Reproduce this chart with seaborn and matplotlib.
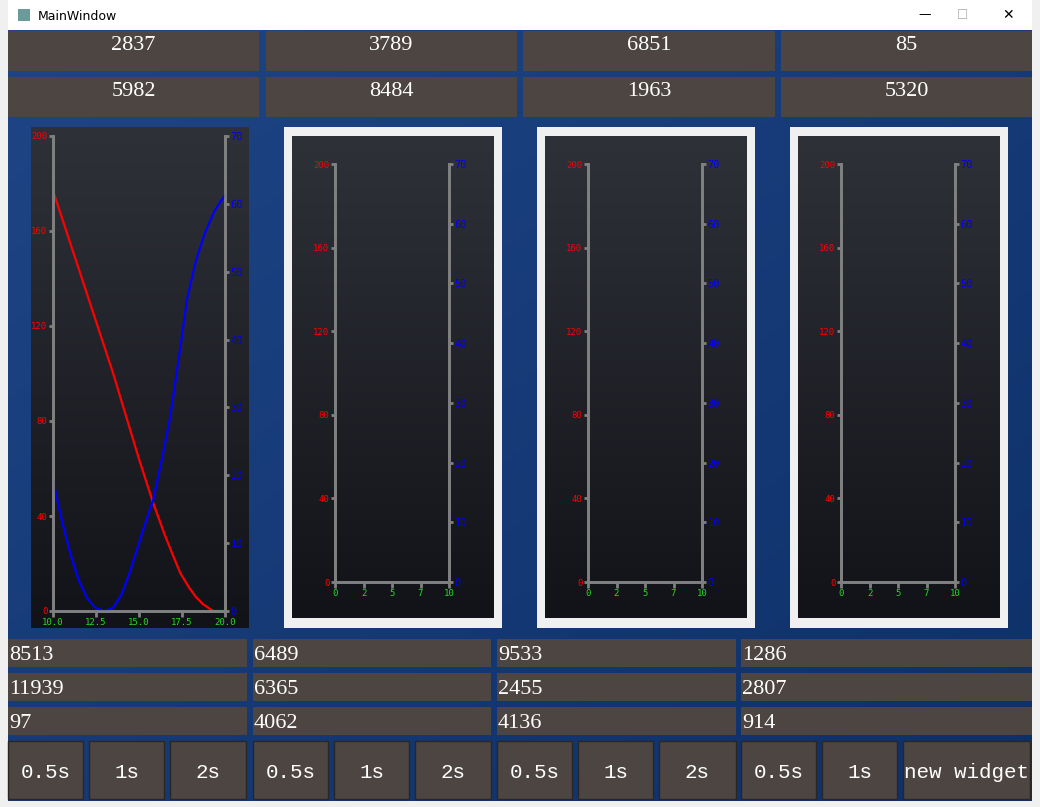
import numpy as np
import matplotlib.pyplot as plt
import seaborn as sns
from matplotlib.patches import Rectangle

W, H = 1040, 807

top_row1 = ['2837', '3789', '6851', '85']
top_row2 = ['5982', '8484', '1963', '5320']
bottom_rows = [['8513', '6489', '9533', '1286'],
               ['11939', '6365', '2455', '2807'],
               ['97', '4062', '4136', '914']]
buttons = ['0.5s', '1s', '2s', '0.5s', '1s', '2s', '0.5s', '1s', '2s', '0.5s', '1s', 'new widget']

# curves
red_x = [10, 10.5, 11, 11.5, 12, 12.5, 13, 13.5, 14, 14.5, 15, 15.4, 15.8,
         16.2, 16.5, 17, 17.4, 17.9, 18.3, 18.7, 19, 19.3, 20.0]
red_y = [177, 166, 155, 144, 133, 122, 111, 100, 88, 76, 64, 55, 46,
         38, 32, 23, 16, 10, 6, 3, 1.5, 0, 0]
blue_x = [10, 10.5, 11, 11.5, 12, 12.5, 13, 13.5, 14, 14.5, 15, 15.5, 15.8,
          16.3, 16.8, 17.3, 17.8, 18.3, 18.8, 19.4, 20.0]
blue_y = [19.3, 13.5, 8.5, 4.5, 1.8, 0.4, 0, 0.5, 2.5, 6, 10, 14, 16.1,
          22, 28.4, 37, 46, 51.5, 55.5, 59, 61.3]

left_ticks = [0, 40, 80, 120, 160, 200]
right_ticks = [0, 10, 20, 30, 40, 50, 60, 70]

BOX = '#4d4542'
GRAY = '#808080'

fig = plt.figure(figsize=(W / 100, H / 100), dpi=100)
fig.patch.set_facecolor('#f0f0f0')


def rect(x, y, w, h):
    return [x / W, 1 - (y + h) / H, w / W, h / H]


def fig_box(x, y, w, h, color, **kw):
    fig.add_artist(Rectangle((x / W, 1 - (y + h) / H), w / W, h / H,
                             transform=fig.transFigure, facecolor=color,
                             edgecolor=kw.pop('ec', 'none'), lw=kw.pop('lw', 0), **kw))


# window background gradient (blue)
bg = fig.add_axes(rect(8, 30, 1024, 771))
grad = np.linspace(0, 1, 256)
gx, gy = np.meshgrid(grad, grad)
bg.imshow(0.5 * gx + 0.5 * gy, cmap=sns.blend_palette(['#1f4586', '#0d3068'], as_cmap=True),
          aspect='auto', extent=[0, 1, 0, 1])
bg.axis('off')

# title bar
fig_box(8, 0, 1024, 30, 'white')
fig.text(38 / W, 1 - 16 / H, 'MainWindow', fontsize=9, va='center', family='DejaVu Sans')
fig.text(925 / W, 1 - 15 / H, '—', fontsize=9, va='center', ha='center')
fig.text(963 / W, 1 - 15 / H, '☐', fontsize=9, va='center', ha='center', color='#aaaaaa')
fig.text(1008 / W, 1 - 15 / H, '✕', fontsize=10, va='center', ha='center')
fig_box(18, 9, 12, 12, '#6a9a9a')

serif = 'Liberation Serif'

# top boxes
xs_top = [(8, 251), (266, 251), (523, 252), (781, 251)]
for row, y in [(top_row1, 31), (top_row2, 77)]:
    for (x, w), t in zip(xs_top, row):
        fig_box(x, y, w, 40, BOX)
        fig.text((x + w / 2) / W, 1 - (y + 14) / H, t, color='white', fontsize=16,
                 ha='center', va='center', family=serif)

# bottom boxes
xs_bot = [(8, 239), (253, 238), (497, 239), (741, 291)]
for row, y in zip(bottom_rows, [639, 673, 707]):
    for (x, w), t in zip(xs_bot, row):
        fig_box(x, y, w, 28, BOX)
        fig.text((x + 1) / W, 1 - (y + 16) / H, t, color='white', fontsize=16,
                 ha='left', va='center', family=serif)

# buttons
bx = [(8, 75), (89, 75), (170, 76), (253, 75), (334, 75), (415, 76),
      (497, 75), (578, 75), (659, 77), (741, 75), (822, 75), (903, 127)]
for (x, w), t in zip(bx, buttons):
    fig_box(x, 741, w, 58, BOX, ec='#2a2624', lw=1)
    fig.text((x + w / 2) / W, 1 - 772 / H, t, color='white', fontsize=15,
             ha='center', va='center', family=['Liberation Mono', 'DejaVu Sans Mono'])

dark = sns.blend_palette(['#2f3139', '#121318'], as_cmap=True)


def panel(x, y, w, h):
    a = fig.add_axes(rect(x, y, w, h))
    a.imshow(np.linspace(0, 1, 256)[:, None], cmap=dark, aspect='auto', extent=[0, 1, 0, 1])
    a.axis('off')


def frame(x, y, w, h):
    a = fig.add_axes(rect(x, y, w, h))
    a.set_facecolor('#f0f0f0')
    a.set_xticks([])
    a.set_yticks([])
    for s in a.spines.values():
        s.set_visible(False)


def chart(x0, x1, y0, y1, xlim, xticks, xlabels, draw):
    ax = fig.add_axes(rect(x0, y0, x1 - x0, y1 - y0))
    ax.set_facecolor('none')
    ax2 = ax.twinx()
    for a in (ax, ax2):
        a.spines['top'].set_visible(False)
        for s in a.spines.values():
            s.set_color(GRAY)
            s.set_linewidth(2)
        a.tick_params(colors=GRAY, width=2, length=4, labelsize=6.5)
    ax.set_xlim(*xlim)
    ax.set_ylim(0, 200)
    ax2.set_ylim(0, 70)
    ax.set_yticks(left_ticks)
    ax2.set_yticks(right_ticks)
    ax.set_xticks(xticks, xlabels)
    ax.tick_params(axis='x', labelcolor='#22dd22', pad=1)
    ax.tick_params(axis='y', labelcolor='red', pad=1, length=3)
    ax2.tick_params(axis='y', labelcolor='blue', pad=1, length=3, labelsize=7.5)
    for lab in ax.get_yticklabels() + ax2.get_yticklabels() + ax.get_xticklabels():
        lab.set_family('DejaVu Sans Mono')
    if draw:
        sns.lineplot(x=red_x, y=red_y, ax=ax, color='red', lw=1.6)
        sns.lineplot(x=blue_x, y=blue_y, ax=ax2, color='blue', lw=1.6)
    ax.set_zorder(3)
    ax2.set_zorder(4)


# first chart: no frame
panel(31, 127, 218, 501)
chart(53, 225, 136, 611, (10, 20), [10, 12.5, 15, 17.5, 20],
      ['10.0', '12.5', '15.0', '17.5', '20.0'], True)

for fx, lx in [(284, 335), (537, 588), (790, 841)]:
    frame(fx, 127, 218, 501)
    panel(fx + 8, 136, 202, 482)
    chart(lx, lx + 114, 164, 582, (0, 10), [0, 2.5, 5, 7.5, 10],
          ['0', '2', '5', '7', '10'], False)

plt.savefig('out.png', dpi=100, facecolor=fig.get_facecolor())
